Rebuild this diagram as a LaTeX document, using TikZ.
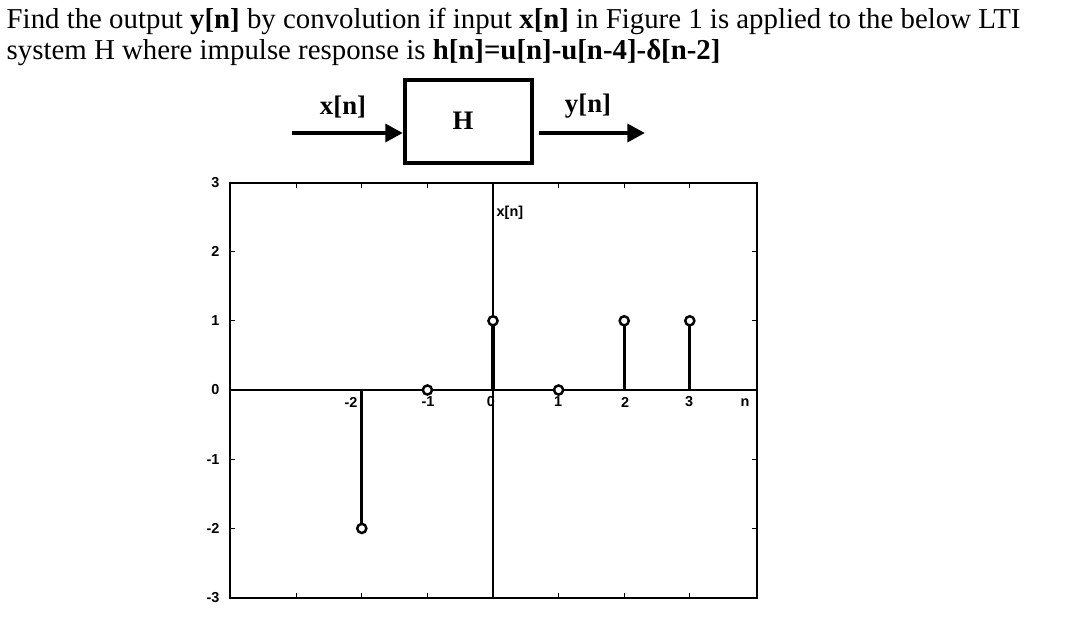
\documentclass[tikz,border=0pt]{standalone}
\usepackage{fontspec}
\setmainfont{Liberation Serif}
\setsansfont{Liberation Sans}
\usetikzlibrary{arrows.meta}
\begin{document}
\begin{tikzpicture}[x=0.01cm,y=-0.01cm,
  qtext/.style={font=\fontsize{8.2pt}{9pt}\selectfont,anchor=west,inner sep=0},
  blk/.style={font=\fontsize{7.6pt}{8pt}\selectfont\bfseries,inner sep=0},
  ax/.style={font=\sffamily\bfseries\fontsize{4.1pt}{4.5pt}\selectfont,inner sep=0},
  stem/.style={line width=0.9pt},
  dot/.style={circle,draw,line width=0.7pt,minimum size=2.6pt,inner sep=0,fill=white},
  bigarrow/.style={line width=1.3pt,-{Triangle[length=5pt,width=5pt]}}]
\useasboundingbox (0,0) rectangle (1070,636);
\node[qtext] (l1) at (6,21) {Find the output \textbf{y[n]} by convolution if input \textbf{x[n]} in Figure 1 is applied to the below LTI};
\node[qtext] (l2) at (6,53) {system H where impulse response is \textbf{h[n]=u[n]-u[n-4]-δ[n-2]}};
% block
\node[draw,line width=1.2pt,minimum width=127*0.01cm,minimum height=83*0.01cm,inner sep=0] (H) at (468.5,121.5) {};
\node[blk] (Ht) at (463,121) {H};
\coordinate (in) at (292,133);
\coordinate (out) at (645,133);
\draw[bigarrow] (in) -- (H.west |- in);
\draw[bigarrow] (H.east |- out) ++(5,0) coordinate (os) (os) -- (out);
\node[blk] (xl) at (343,107) {x[n]};
\node[blk] (yl) at (588,106) {y[n]};
% plot: x0=493, sx=65.6 ; y0=390, sy=69.2
\begin{scope}[line width=0.35pt]
\draw (230,183) rectangle (757,598);
\draw (230,390) -- (757,390);
\draw (493,183) -- (493,598);
\foreach \i in {-3,...,3} {
  \draw (493+65.6*\i,183) -- ++(0,5);
  \draw (493+65.6*\i,598) -- ++(0,-5);
  \draw (230,390-69.2*\i) -- ++(5,0);
  \draw (757,390-69.2*\i) -- ++(-5,0);
  \node[ax,anchor=east] at (220,390-69.2*\i) {\i};
}
\end{scope}
\foreach \i/\lx in {-2/351,-1/428,0/491,1/558,2/625,3/689}
  \node[ax] at (\lx,402) {\i};
\node[ax] (nl) at (745,403) {n};
\node[ax,anchor=west] (xn) at (496,213) {x[n]};
\foreach \i/\v in {-2/-2,-1/0,0/1,1/0,2/1,3/1} {
  \draw[stem] (493+65.6*\i,390) -- (493+65.6*\i,390-69.2*\v);
  \node[dot] at (493+65.6*\i,390-69.2*\v) {};
}
\end{tikzpicture}
\end{document}
